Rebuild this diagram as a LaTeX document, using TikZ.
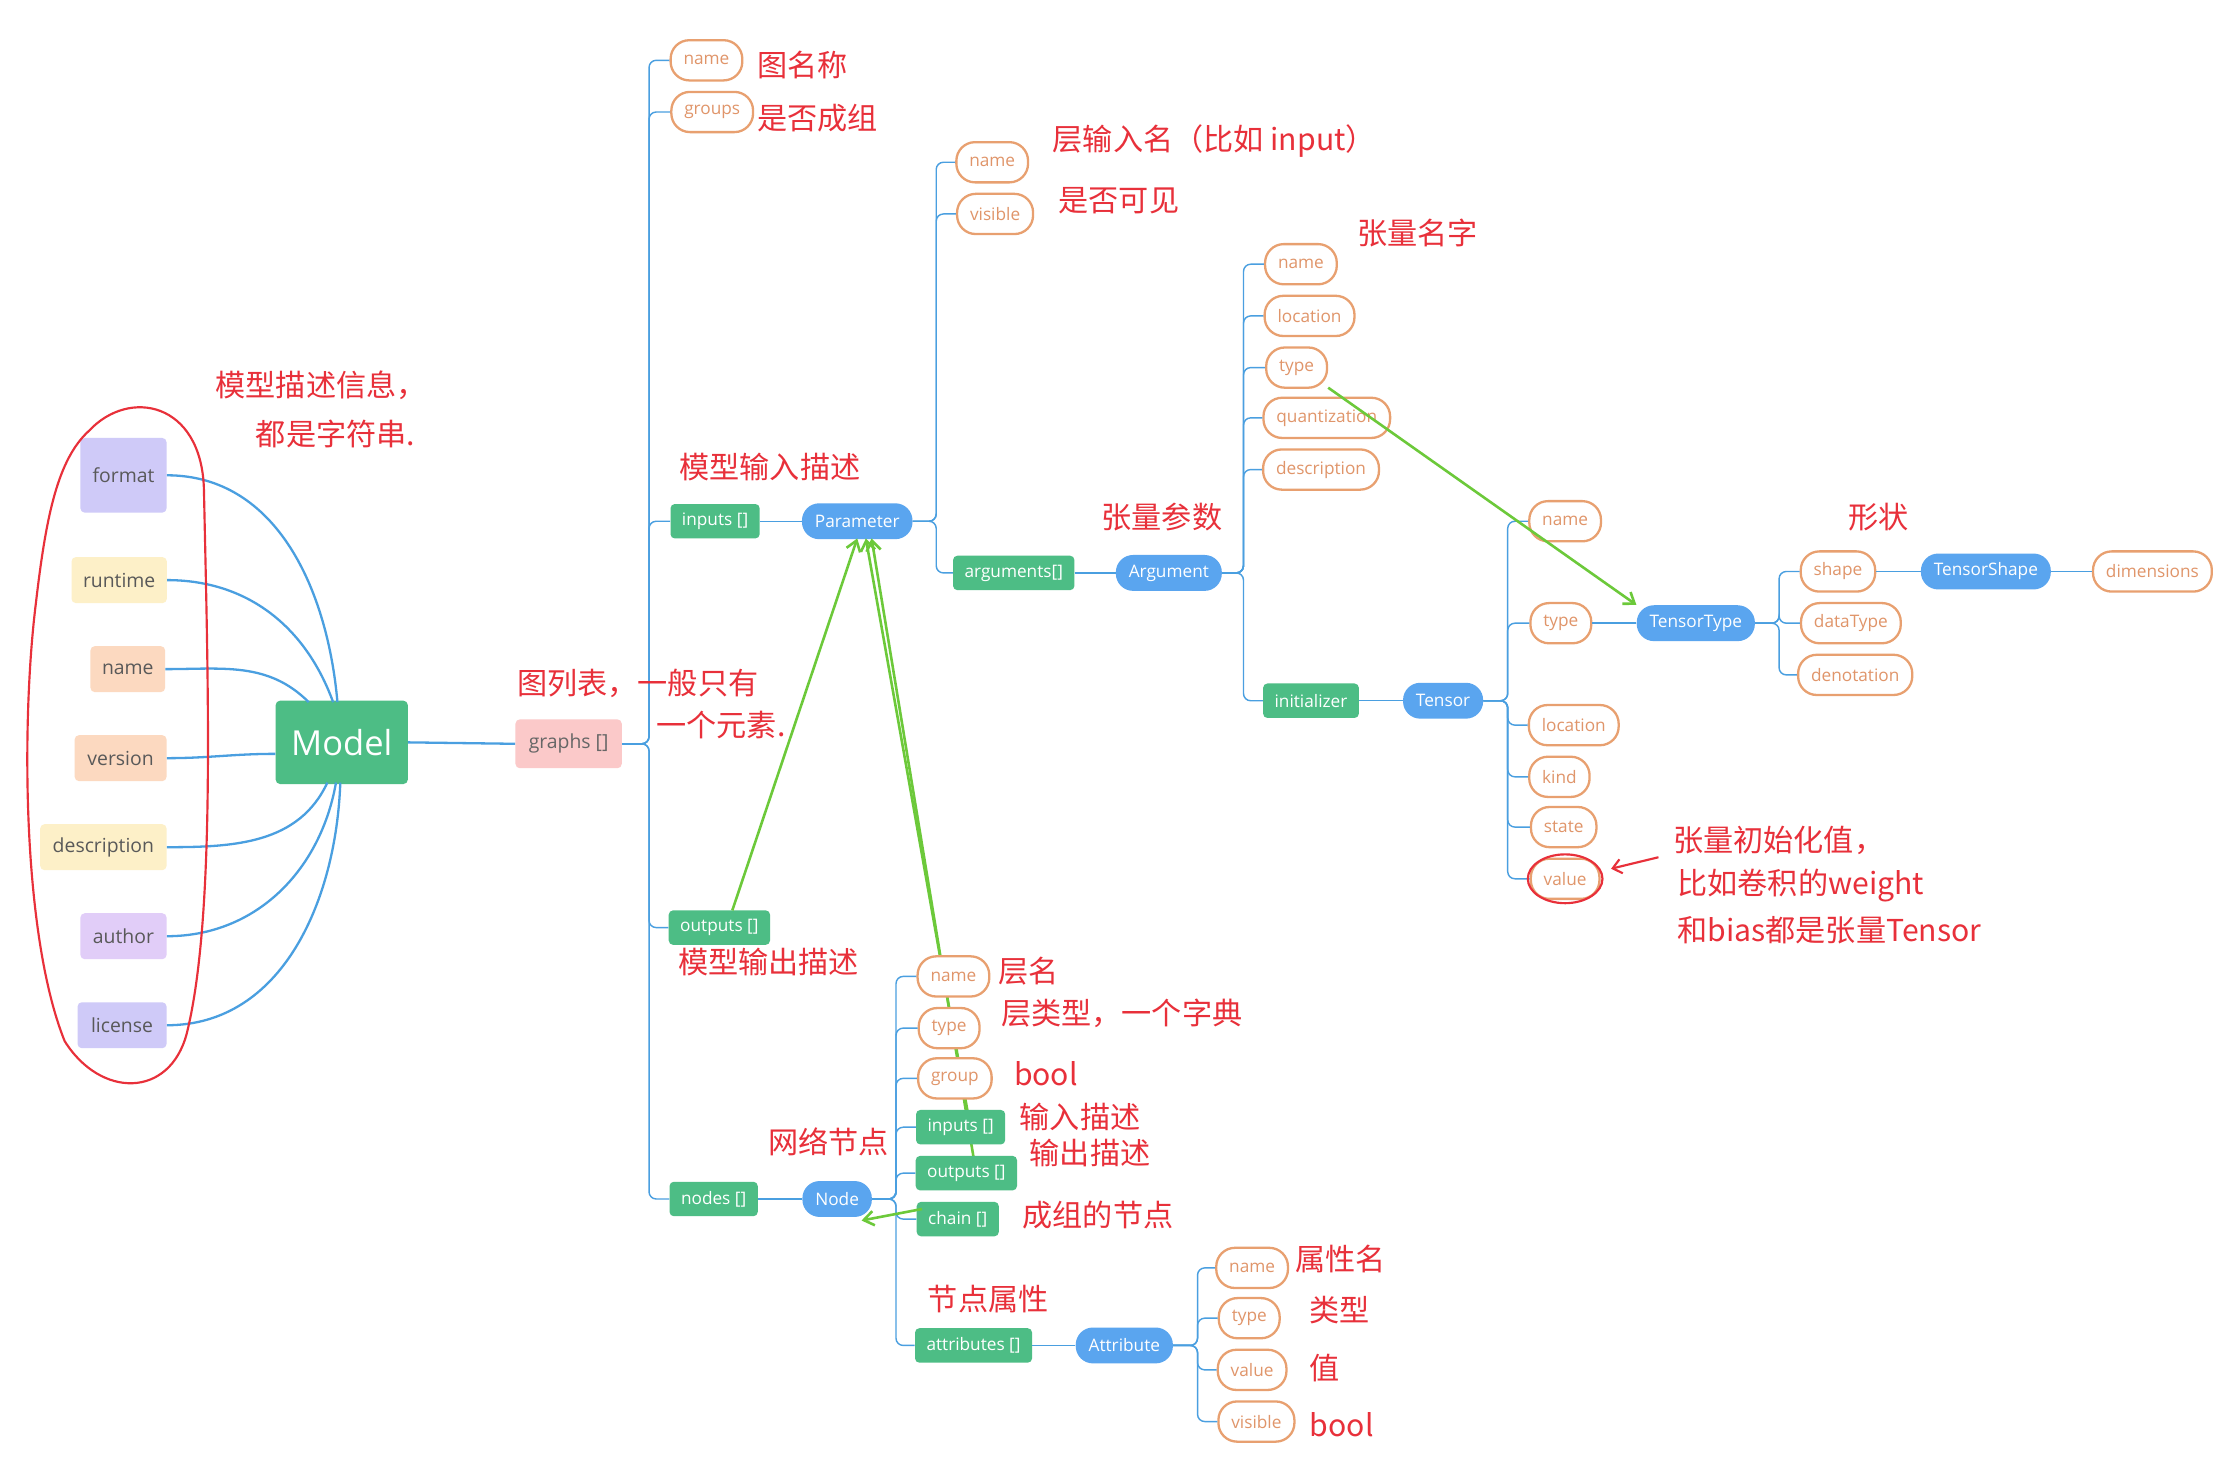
\documentclass[tikz,border=0pt]{standalone}
\usepackage{fontspec}
\setmainfont{Open Sans}
\newfontfamily\hand{Noto Sans CJK SC}
\usetikzlibrary{arrows.meta,calc}
\definecolor{orl}{HTML}{E8A070}
\definecolor{ort}{HTML}{E0956A}
\definecolor{gr}{HTML}{4DBD85}
\definecolor{bl}{HTML}{5AA5EF}
\definecolor{ln}{HTML}{4A9FE0}
\definecolor{lg}{HTML}{6CC93A}
\definecolor{rd}{HTML}{E8303A}
\definecolor{lav}{HTML}{CFCAF8}
\definecolor{lav2}{HTML}{E1CDF8}
\definecolor{yel}{HTML}{FDF0C8}
\definecolor{pch}{HTML}{FCD9C0}
\definecolor{pnk}{HTML}{FBC9C9}
\begin{document}
\begin{tikzpicture}[x=1pt,y=-1pt,
  leaf/.style={draw=orl,line width=1.6pt,rounded corners=13pt,fill=white,text=ort,minimum height=28pt,inner xsep=9pt,inner ysep=0pt,font=\fontsize{12}{14}\selectfont},
  grn/.style={fill=gr,rounded corners=3pt,text=white,minimum height=24pt,inner xsep=8pt,font=\fontsize{12}{14}\selectfont},
  blu/.style={fill=bl,rounded corners=12pt,text=white,minimum height=25pt,inner xsep=9pt,font=\fontsize{12}{14}\selectfont},
  lft/.style={rounded corners=3pt,text=black!65,minimum height=32pt,inner xsep=8pt,font=\fontsize{13.5}{16}\selectfont},
  tree/.style={draw=ln,line width=1pt,rounded corners=5pt},
  crv/.style={draw=ln,line width=1.6pt},
  garr/.style={draw=lg,line width=1.8pt,-{Straight Barb[length=7pt,width=10pt]}},
  note/.style={text=rd,font=\hand\fontsize{21}{24}\selectfont,anchor=west,inner sep=0pt}]
\useasboundingbox (0,0) rectangle (1560,1028);
\fill[white] (0,0) rectangle (1560,1028);

\coordinate (gA) at (925,270);
\coordinate (gO) at (510,634);
\coordinate (gI) at (674,775);
\coordinate (gU) at (678,806);
\coordinate (gC) at (642,842);

% ---- left column
\node[lft,fill=lav,minimum width=60pt,minimum height=52pt] (format) at (86,331) {format};
\node[lft,fill=yel,minimum width=66pt] (runtime) at (83,404) {runtime};
\node[lft,fill=pch,minimum width=52pt] (mname) at (89,466) {name};
\node[lft,fill=pch,minimum width=64pt] (version) at (84,528) {version};
\node[lft,fill=yel,minimum width=88pt] (desc) at (72,590) {description};
\node[lft,fill=lav2,minimum width=60pt] (author) at (86,652) {author};
\node[lft,fill=lav,minimum width=62pt] (license) at (85,714) {license};
\node[fill=gr,rounded corners=3pt,text=white,minimum width=92pt,minimum height=58pt,font=\fontsize{24}{28}\selectfont] (model) at (238,517) {Model};

\draw[crv] (235,489) to[out=95,in=0] (format.east);
\draw[crv] (232,489) to[out=110,in=0] (runtime.east);
\draw[crv] (215,489) to[out=135,in=0] (mname.east);
\draw[crv] (model.west) ++(0,8) to[out=180,in=0] (version.east);
\draw[crv] (228,545) to[out=-115,in=0] (desc.east);
\draw[crv] (234,545) to[out=-100,in=0] (author.east);
\draw[crv] (237,545) to[out=-92,in=0] (license.east);

\node[fill=pnk,rounded corners=3pt,text=black!60,minimum width=74pt,minimum height=34pt,font=\fontsize{13.5}{16}\selectfont] (graphs) at (396,518) {graphs []};
\draw[crv] (model.east) -- (graphs.west);

% ---- graph level
\node[leaf] (gname) at (492,42) {name};
\node[leaf] (ggroups) at (496,78) {groups};
\node[grn] (ginputs) at (498,363) {inputs []};
\node[grn] (goutputs) at (501,646) {outputs []};
\node[grn] (gnodes) at (497,835) {nodes []};
\foreach \c in {gname,ggroups,ginputs,goutputs,gnodes}
  \draw[tree] (graphs.east) -- (452,518) |- (\c.west);

% ---- Parameter
\node[blu] (param) at (597,363) {Parameter};
\draw[tree] (ginputs) -- (param);
\node[leaf] (pname) at (691,113) {name};
\node[leaf] (pvis) at (693,149) {visible};
\node[grn] (pargs) at (706,399) {arguments[]};
\foreach \c in {pname,pvis,pargs}
  \draw[tree] (param.east) -- (652,363) |- (\c.west);

% ---- Argument
\node[blu,minimum width=68pt] (arg) at (814,399) {Argument};
\draw[tree] (pargs) -- (arg);
\node[leaf] (aname) at (906,184) {name};
\node[leaf] (aloc) at (912,220) {location};
\node[leaf] (atype) at (903,256) {type};
\node[leaf] (aquant) at (924,291) {quantization};
\node[leaf] (adesc) at (920,327) {description};
\node[grn] (ainit) at (913,488) {initializer};
\foreach \c in {aname,aloc,atype,aquant,adesc,ainit}
  \draw[tree] (arg.east) -- (866,399) |- (\c.west);

% ---- Tensor
\node[blu] (tensor) at (1005,488) {Tensor};
\draw[tree] (ainit) -- (tensor);
\node[leaf] (tname) at (1090,363) {name};
\node[leaf] (ttype) at (1087,434) {type};
\node[leaf] (tloc) at (1096,505) {location};
\node[leaf] (tkind) at (1086,541) {kind};
\node[leaf] (tstate) at (1089,576) {state};
\node[leaf] (tval) at (1090,612) {value};
\foreach \c in {tname,ttype,tloc,tkind,tstate,tval}
  \draw[tree] (tensor.east) -- (1050,488) |- (\c.west);

% ---- TensorType
\node[blu] (ttt) at (1181,434) {TensorType};
\draw[tree] (ttype) -- (ttt);
\draw[garr] (gA) -- (ttt.north west);
\node[leaf] (sshape) at (1280,398) {shape};
\node[leaf] (sdt) at (1289,434) {dataType};
\node[leaf] (sden) at (1292,470) {denotation};
\foreach \c in {sshape,sdt,sden}
  \draw[tree] (ttt.east) -- (1239,434) |- (\c.west);
\node[blu] (tshape) at (1383,398) {TensorShape};
\draw[tree] (sshape) -- (tshape);
\node[leaf] (dims) at (1499,398) {dimensions};
\draw[tree] (tshape) -- (dims);

% ---- links to Parameter
\draw[garr] (gI) -- (603,375);
\draw[garr] (gU) -- (607,375);
\draw[garr] (gO) -- (597,375);

% ---- Node
\node[blu,minimum width=44pt] (node) at (583,835) {Node};
\draw[tree] (gnodes) -- (node);
\node[leaf] (nname) at (664,680) {name};
\node[leaf] (ntype) at (661,716) {type};
\node[leaf] (ngroup) at (665,751) {group};
\node[grn] (ninputs) at (669,785) {inputs []};
\node[grn] (noutputs) at (673,817) {outputs []};
\node[grn] (nchain) at (667,849) {chain []};
\node[grn] (nattr) at (678,937) {attributes []};
\foreach \c in {nname,ntype,ngroup,ninputs,noutputs,nchain,nattr}
  \draw[tree] (node.east) -- (624,835) |- (\c.west);
\draw[garr] (gC) -- (600,850);

% ---- Attribute
\node[blu] (attr) at (783,937) {Attribute};
\draw[tree] (nattr) -- (attr);
\node[leaf] (atname) at (872,883) {name};
\node[leaf] (attype) at (870,918) {type};
\node[leaf] (atval) at (872,954) {value};
\node[leaf] (atvis) at (875,990) {visible};
\foreach \c in {atname,attype,atval,atvis}
  \draw[tree] (attr.east) -- (834,937) |- (\c.west);

% ---- red handwriting
\draw[rd,line width=1.5pt] (62,300) .. controls (90,270) and (140,280) .. (142,340)
  .. controls (145,480) and (150,640) .. (130,720) .. controls (118,765) and (70,765) .. (45,725)
  .. controls (15,650) and (15,500) .. (25,420) .. controls (32,360) and (40,320) .. (62,300);
\draw[rd,line width=1.5pt] (tval.center) ellipse (26pt and 17pt);
\draw[rd,line width=1.5pt,-{Straight Barb[length=6pt,width=10pt]}] (1155,597) -- (1122,605);
\node[note] (n1) at (527,45) {图名称};
\node[note] (n2) at (527,82) {是否成组};
\node[note] (n3) at (733,98) {层输入名（比如 input）};
\node[note] (n4) at (737,140) {是否可见};
\node[note] (n5) at (945,162) {张量名字};
\node[note] (n6) at (150,268) {模型描述信息，};
\node[note] (n7) at (178,302) {都是字符串.};
\node[note] (n8) at (473,325) {模型输入描述};
\node[note] (n9) at (767,360) {张量参数};
\node[note] (n10) at (360,476) {图列表，一般只有};
\node[note] (n11) at (457,505) {一个元素.};
\node[note] (n12) at (472,670) {模型输出描述};
\node[note] (n13) at (1287,360) {形状};
\node[note] (n14) at (695,676) {层名};
\node[note] (n15) at (697,706) {层类型，一个字典};
\node[note] (n16) at (706,748) {bool};
\node[note] (n17) at (710,778) {输入描述};
\node[note] (n18) at (717,803) {输出描述};
\node[note] (n19) at (535,795) {网络节点};
\node[note] (n20) at (712,846) {成组的节点};
\node[note] (n21) at (646,905) {节点属性};
\node[note] (n22) at (902,877) {属性名};
\node[note] (n23) at (912,912) {类型};
\node[note] (n24) at (912,953) {值};
\node[note] (n25) at (912,992) {bool};
\node[note] (n26) at (1165,585) {张量初始化值，};
\node[note] (n27) at (1168,617) {比如卷积的weight};
\node[note] (n28) at (1168,648) {和bias都是张量Tensor};
\end{tikzpicture}
\end{document}
